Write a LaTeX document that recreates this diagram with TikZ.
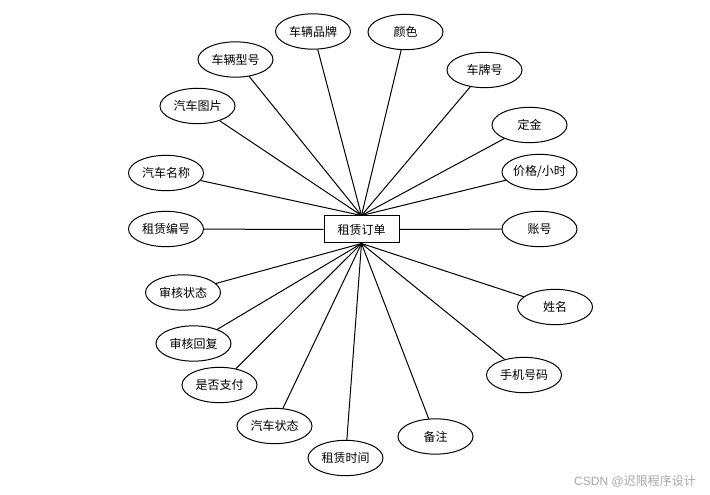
\documentclass[tikz,border=0pt]{standalone}
\usepackage{fontspec}
\setmainfont{Liberation Sans}
\newfontfamily\cjk{Noto Sans CJK SC}
\usetikzlibrary{shapes.geometric}
\begin{document}
\begin{tikzpicture}[x=0.75pt,y=-0.75pt,
  attr/.style={ellipse,draw,line width=0.75pt,inner sep=0pt,minimum width=56.25pt,minimum height=26.5pt,font=\cjk\fontsize{9}{10}\selectfont},
  ent/.style={rectangle,draw,line width=0.75pt,inner sep=0pt,minimum width=56.25pt,minimum height=20.25pt,font=\cjk\fontsize{9}{10}\selectfont},
  link/.style={line width=0.75pt}]
\useasboundingbox (0,0) rectangle (710,495);
\node[ent] (o) at (361.5,229.5) {租赁订单};
\node[attr] (a1) at (313,31.5) {车辆品牌};
\node[attr] (a2) at (405.5,32) {颜色};
\node[attr] (a3) at (235.5,59.5) {车辆型号};
\node[attr] (a4) at (484.5,70) {车牌号};
\node[attr] (a5) at (197.5,106) {汽车图片};
\node[attr] (a6) at (529.5,125) {定金};
\node[attr] (a7) at (166,173) {汽车名称};
\node[attr] (a8) at (539.5,172) {价格/小时};
\node[attr] (a9) at (166,229) {租赁编号};
\node[attr] (a10) at (539.5,229) {账号};
\node[attr] (a11) at (183,292.5) {审核状态};
\node[attr] (a12) at (555,307) {姓名};
\node[attr] (a13) at (193.5,343.5) {审核回复};
\node[attr] (a14) at (524,375) {手机号码};
\node[attr] (a15) at (219.5,385) {是否支付};
\node[attr] (a16) at (274.5,426) {汽车状态};
\node[attr] (a17) at (435.5,436.5) {备注};
\node[attr] (a18) at (345.5,458) {租赁时间};
\foreach \n in {a1,a2,a3,a4,a5,a6,a7,a8} \draw[link] (\n) -- (o.north);
\foreach \n in {a11,a12,a13,a14,a15,a16,a17,a18} \draw[link] (\n) -- (o.south);
\draw[link] (a9) -- (o.west);
\draw[link] (a10) -- (o.east);
\node[text=black!35,font=\fontsize{9}{10}\selectfont,inner sep=0pt] (wm) at (635,481) {CSDN @{\cjk 迟限程序设计}};
\end{tikzpicture}
\end{document}
